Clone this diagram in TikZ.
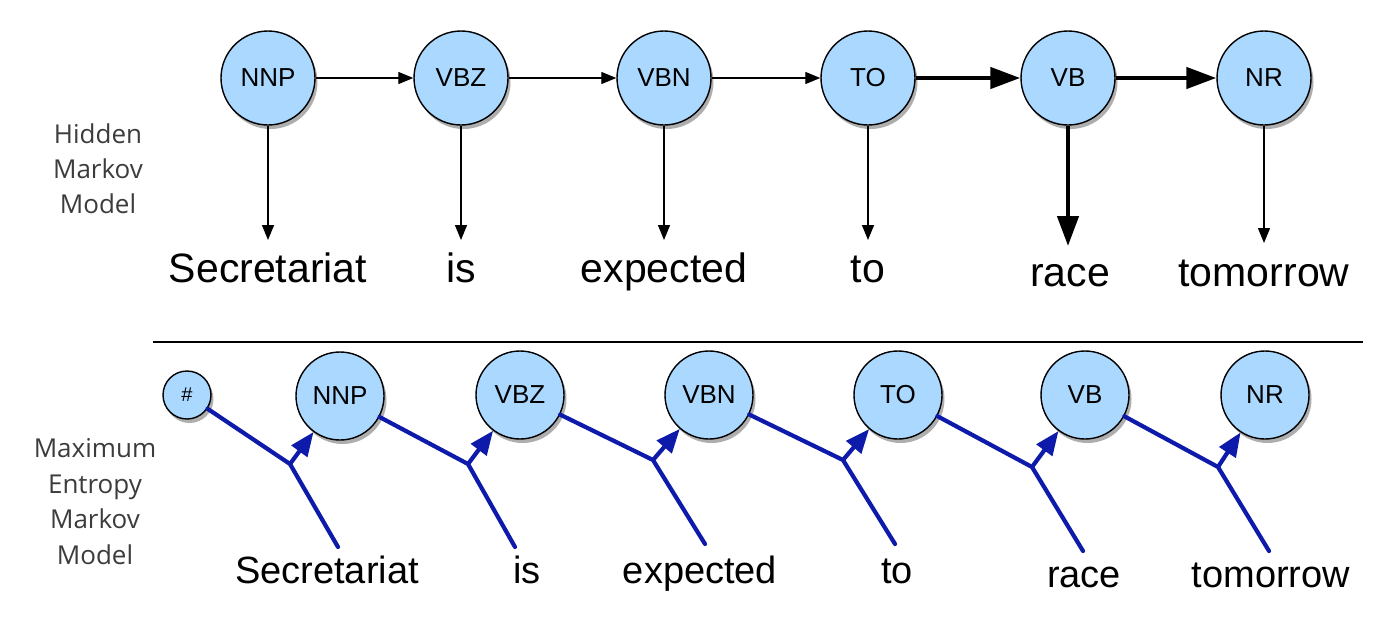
\documentclass[tikz,border=0pt]{standalone}
\usepackage{fontspec}
\setmainfont{Liberation Sans}
\newfontfamily\osans{Open Sans}
\usetikzlibrary{arrows.meta,shadows}
\definecolor{cfill}{RGB}{170,216,255}
\definecolor{mblue}{RGB}{14,26,170}
\definecolor{lgray}{RGB}{60,60,60}
\definecolor{shad}{RGB}{95,95,95}
\tikzset{
  st/.style={circle,draw=black,line width=1.4pt,fill=cfill,inner sep=0pt,
    drop shadow={shadow xshift=2.5pt,shadow yshift=-4pt,fill=shad}},
  topst/.style={st,minimum size=94pt,font=\fontsize{26}{26}\selectfont},
  botst/.style={st,minimum size=88pt,font=\fontsize{26}{26}\selectfont},
  hashst/.style={st,minimum size=48pt,font=\fontsize{20}{20}\selectfont},
  thinarr/.style={line width=1.3pt,-{Triangle[length=15pt,width=12pt]}},
  thickarr/.style={line width=4.5pt,-{Triangle[length=30pt,width=21pt]}},
  bline/.style={draw=mblue,line width=4.2pt,line cap=round,line join=miter},
  barr/.style={draw=mblue,line width=4.2pt,-{Triangle[length=24pt,width=19pt]}},
  wtop/.style={anchor=base,inner sep=0pt,font=\fontsize{41}{41}\selectfont},
  wbot/.style={anchor=base,inner sep=0pt,font=\fontsize{38}{38}\selectfont},
  side/.style={anchor=base,inner sep=0pt,text=lgray,font=\osans\fontsize{26}{26}\selectfont},
}
\begin{document}
\begin{tikzpicture}[x=1pt,y=-1pt]
\useasboundingbox[fill=white] (0,0) rectangle (1400,627);
% ---- side labels
\node[side] (h1) at (98,143) {Hidden};
\node[side] (h2) at (98,178) {Markov};
\node[side] (h3) at (98,213) {Model};
\node[side] (m1) at (95,457) {Maximum};
\node[side] (m2) at (95,493) {Entropy};
\node[side] (m3) at (95,528) {Markov};
\node[side] (m4) at (95,564) {Model};
% ---- top (HMM)
\node[topst] (t1) at (268,78) {NNP};
\node[topst] (t2) at (461,78) {VBZ};
\node[topst] (t3) at (664,78) {VBN};
\node[topst] (t4) at (868,78) {TO};
\node[topst] (t5) at (1068,78) {VB};
\node[topst] (t6) at (1264,78) {NR};
\draw[thinarr] (t1) -- (t2);
\draw[thinarr] (t2) -- (t3);
\draw[thinarr] (t3) -- (t4);
\draw[thickarr] (t4) -- (t5);
\draw[thickarr] (t5) -- (t6);
\coordinate (e1) at (268,240);
\coordinate (e2) at (461,240);
\coordinate (e3) at (664,240);
\coordinate (e4) at (868,240);
\coordinate (e5) at (1068,246);
\coordinate (e6) at (1264,243);
\draw[thinarr] (t1.south) -- (e1);
\draw[thinarr] (t2.south) -- (e2);
\draw[thinarr] (t3.south) -- (e3);
\draw[thinarr] (t4.south) -- (e4);
\draw[thickarr] (t5.south) -- (e5);
\draw[thinarr] (t6.south) -- (e6);
\node[wtop] (tw1) at (268,282) {Secretariat};
\node[wtop] (tw2) at (461,282) {is};
\node[wtop] (tw3) at (664,282) {expected};
\node[wtop] (tw4) at (868,282) {to};
\node[wtop] (tw5) at (1070,286) {race};
\node[wtop] (tw6) at (1264,286) {tomorrow};
% ---- separator
\coordinate (sl) at (153,342);
\coordinate (sr) at (1363,342);
\draw[line width=1.4pt] (sl) -- (sr);
% ---- bottom (MEMM)
\node[hashst] (b0) at (187,395) {\#};
\node[botst] (b1) at (340,396) {NNP};
\node[botst] (b2) at (520,395) {VBZ};
\node[botst] (b3) at (709,395) {VBN};
\node[botst] (b4) at (898,395) {TO};
\node[botst] (b5) at (1085,395) {VB};
\node[botst] (b6) at (1265,395) {NR};
\coordinate (j1) at (290,464); \coordinate (w1) at (338,547);
\coordinate (j2) at (468,464); \coordinate (w2) at (515,547);
\coordinate (j3) at (653,460); \coordinate (w3) at (705,544);
\coordinate (j4) at (843,460); \coordinate (w4) at (895,544);
\coordinate (j5) at (1032,467); \coordinate (w5) at (1083,551);
\coordinate (j6) at (1218,467); \coordinate (w6) at (1269,551);
\draw[bline] (b0) -- (j1) -- (w1);
\draw[bline] (b1) -- (j2) -- (w2);
\draw[bline] (b2) -- (j3) -- (w3);
\draw[bline] (b3) -- (j4) -- (w4);
\draw[bline] (b4) -- (j5) -- (w5);
\draw[bline] (b5) -- (j6) -- (w6);
\draw[barr] (j1) -- (b1);
\draw[barr] (j2) -- (b2);
\draw[barr] (j3) -- (b3);
\draw[barr] (j4) -- (b4);
\draw[barr] (j5) -- (b5);
\draw[barr] (j6) -- (b6);
\node[wbot] (bw1) at (327,583) {Secretariat};
\node[wbot] (bw2) at (527,583) {is};
\node[wbot] (bw3) at (700,583) {expected};
\node[wbot] (bw4) at (897,583) {to};
\node[wbot] (bw5) at (1084,587) {race};
\node[wbot] (bw6) at (1271,587) {tomorrow};
\end{tikzpicture}
\end{document}
